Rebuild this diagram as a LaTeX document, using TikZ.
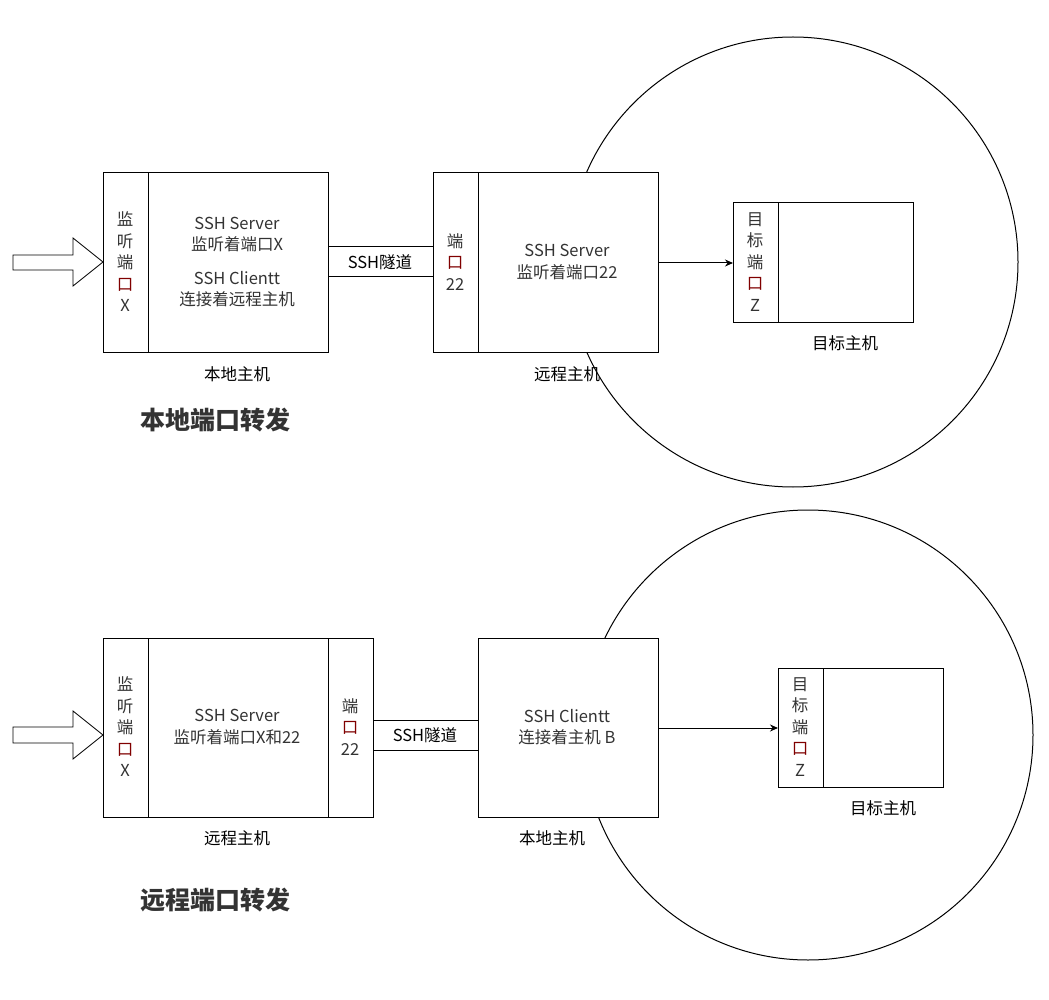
\documentclass[tikz,border=0pt]{standalone}
\usepackage{fontspec}
\usetikzlibrary{arrows.meta}
\setmainfont{Noto Sans CJK SC}
\begin{document}
\begin{tikzpicture}[x=1pt,y=-1pt,line width=1pt,
  box/.style={draw,fill=white},
  txt/.style={text=black!80,font=\fontsize{16.5}{21.5}\selectfont,align=center,inner sep=0},
  lbl/.style={font=\fontsize{16.5}{20}\selectfont,inner sep=0},
  ttl/.style={text=black!80,font=\fontsize{25}{28}\selectfont\bfseries,inner sep=0},
  arr/.style={-{Stealth[length=8pt,width=7pt]}}]
\useasboundingbox (0,0) rectangle (1049,1000);
\def\kou{\textcolor{red!50!black}{口}}
% top
\draw (793,262) circle (225);
\draw[box] (103,173) rectangle (328,352);
\draw (148,173) -- (148,352);
\draw[box] (433,173) rectangle (658,352);
\draw (478,173) -- (478,352);
\draw[box] (733,203) rectangle (913,322);
\draw (778,203) -- (778,322);
\draw (328,247) -- (433,247) (328,277) -- (433,277);
\node[lbl] (t1) at (380,262) {SSH隧道};
\node[txt] (a1) at (125,262) {监\\听\\端\\\kou\\X};
\node[txt] (a2) at (237,262) {SSH Server\\监听着端口X\\[12pt]SSH Clientt\\连接着远程主机};
\node[txt] (b1) at (455,262) {端\\\kou\\22};
\node[txt] (b2) at (567,262) {SSH Server\\监听着端口22};
\node[txt] (c1) at (755,262) {目\\标\\端\\\kou\\Z};
\coordinate (p1) at (658,263);
\coordinate (p2) at (733,263);
\draw[arr] (p1) -- (p2);
\node[lbl] at (237,374) {本地主机};
\node[lbl] at (567,374) {远程主机};
\node[lbl] at (845,343) {目标主机};
\node[ttl] at (215,420) {本地端口转发};
\draw[line width=0.8pt] (13,255) -- (73,255) -- (73,238) -- (103,262) -- (73,286) -- (73,270) -- (13,270) -- cycle;
% bottom
\draw (808,735) circle (225);
\draw[box] (103,638) rectangle (373,817);
\draw (148,638) -- (148,817) (328,638) -- (328,817);
\draw[box] (478,638) rectangle (658,817);
\draw[box] (778,668) rectangle (943,787);
\draw (823,668) -- (823,787);
\draw (373,720) -- (478,720) (373,750) -- (478,750);
\node[lbl] (t2) at (425,735) {SSH隧道};
\node[txt] at (125,727) {监\\听\\端\\\kou\\X};
\node[txt] at (237,727) {SSH Server\\监听着端口X和22};
\node[txt] at (350,727) {端\\\kou\\22};
\node[txt] at (567,727) {SSH Clientt\\连接着主机 B};
\node[txt] at (800,727) {目\\标\\端\\\kou\\Z};
\coordinate (q1) at (658,728);
\coordinate (q2) at (778,728);
\draw[arr] (q1) -- (q2);
\node[lbl] at (237,838) {远程主机};
\node[lbl] at (552,838) {本地主机};
\node[lbl] at (883,808) {目标主机};
\node[ttl] at (215,900) {远程端口转发};
\draw[line width=0.8pt] (13,727) -- (73,727) -- (73,711) -- (103,735) -- (73,759) -- (73,743) -- (13,743) -- cycle;
\end{tikzpicture}
\end{document}
